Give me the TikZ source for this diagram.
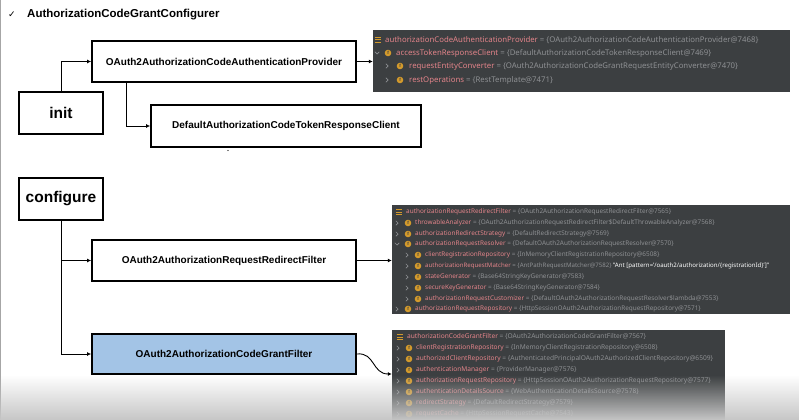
\documentclass[tikz,border=0pt]{standalone}
\usepackage{fontspec}
\setmainfont{Noto Sans}
\newfontfamily\dejavu{DejaVu Sans}
\newfontfamily\bx{Liberation Sans Bold}
\usetikzlibrary{arrows.meta,fadings}
\definecolor{pan}{HTML}{3C3F41}
\definecolor{nm}{HTML}{E3848A}
\definecolor{vl}{HTML}{8E9093}
\definecolor{ic}{HTML}{D39A2C}
\definecolor{blu}{HTML}{A3C4E6}
\newcommand\chv[2]{\draw[vl,line width=0.7pt] (#1-1.2,#2-2.2)--(#1+1,#2)--(#1-1.2,#2+2.2);}
\newcommand\chd[2]{\draw[vl,line width=0.7pt] (#1-2.2,#2-1.2)--(#1,#2+1)--(#1+2.2,#2-1.2);}
\newcommand\icf[2]{\fill[ic] (#1,#2) circle (3.3pt); \node[font=\fontsize{4.5}{5}\selectfont\bx,text=pan,inner sep=0] at (#1,#2) {f};}
\newcommand\icl[2]{\foreach \d in {-2.2,0,2.2}{\draw[ic,line width=1pt] (#1-3,#2+\d)--(#1+3,#2+\d);}}
\newcommand\txt[4]{\node[anchor=west,inner sep=0,font=#4] at (#1,#2) {#3};}
\begin{document}
\begin{tikzpicture}[x=1pt,y=-1pt,
  box/.style={draw=black,line width=1.8pt,fill=white,font=\bx\fontsize{10}{11}\selectfont,inner sep=0},
  big/.style={draw=black,line width=1.8pt,fill=white,font=\bx\fontsize{15.5}{17}\selectfont,inner sep=0},
  con/.style={line width=0.9pt,-{Latex[length=4pt,width=4pt]}}]
\useasboundingbox (0,0) rectangle (800,420);
\fill[white] (0,0) rectangle (800,420);
\draw[gray!70,line width=1pt] (0.5,0)--(0.5,420);
% title
\node[anchor=west,inner sep=0,font=\dejavu\fontsize{9}{10}\selectfont] (chk) at (8,15) {✓};
\node[anchor=west,inner sep=0,font=\bx\fontsize{11.5}{13}\selectfont] (title) at (27,15) {AuthorizationCodeGrantConfigurer};
% boxes
\node[box,minimum width=264pt,minimum height=41pt] (prov) at (224,61.5) {OAuth2AuthorizationCodeAuthenticationProvider};
\node[big,minimum width=84pt,minimum height=42pt] (init) at (61,113) {init};
\node[box,minimum width=270pt,minimum height=42pt] (client) at (286,126) {DefaultAuthorizationCodeTokenResponseClient};
\node[big,minimum width=84pt,minimum height=42pt] (conf) at (61,199) {configure};
\node[box,minimum width=264pt,minimum height=41pt] (redir) at (224,260.5) {OAuth2AuthorizationRequestRedirectFilter};
\node[box,fill=blu,minimum width=264pt,minimum height=40pt] (grant) at (224,354) {OAuth2AuthorizationCodeGrantFilter};
\fill[black] (228,150.5) circle (0.6pt);
% panels
\node[fill=pan,minimum width=417pt,minimum height=62pt,inner sep=0] (p1) at (581.5,61) {};
\node[fill=pan,minimum width=398pt,minimum height=109pt,inner sep=0] (p2) at (591,259.5) {};
\node[fill=pan,minimum width=333pt,minimum height=92pt,inner sep=0] (p3) at (558.5,376) {};
% connectors
\draw[con] (init.north) |- (prov.west);
\draw[con] (prov.south -| 126,0) |- (client.west);
\draw[con] (prov.east) -- (p1.west |- prov.east);
\draw[con] (conf.south) |- (redir.west);
\draw[con] (conf.south) |- (grant.west);
\draw[con] (redir.east) -- (p2.west |- redir.east);
\draw[con] (grant.east) .. controls (375,352) and (372,374) .. (p3.west |- 0,374);
% panel 1
\def\fa{\fontsize{7.8}{8}\selectfont}
\icl{378}{40}\txt{385}{40}{\color{nm}authorizationCodeAuthenticationProvider \color{vl}= \{OAuth2AuthorizationCodeAuthenticationProvider@7468\}}{\fa}
\chd{377}{53}\icf{388}{53}\txt{396}{53}{\color{nm}accessTokenResponseClient \color{vl}= \{DefaultAuthorizationCodeTokenResponseClient@7469\}}{\fa}
\chv{387}{66}\icf{400}{66}\txt{409}{66}{\color{nm}requestEntityConverter \color{vl}= \{OAuth2AuthorizationCodeGrantRequestEntityConverter@7470\}}{\fa}
\chv{387}{80}\icf{400}{80}\txt{409}{80}{\color{nm}restOperations \color{vl}= \{RestTemplate@7471\}}{\fa}
% panel 2
\def\fb{\fontsize{6.4}{7}\selectfont}
\icl{399}{212}\txt{406}{212}{\color{nm}authorizationRequestRedirectFilter \color{vl}= \{OAuth2AuthorizationRequestRedirectFilter@7565\}}{\fb}
\chv{397}{223}\icf{408}{223}\txt{415}{223}{\color{nm}throwableAnalyzer \color{vl}= \{OAuth2AuthorizationRequestRedirectFilter\$DefaultThrowableAnalyzer@7568\}}{\fb}
\chv{397}{234}\icf{408}{234}\txt{415}{234}{\color{nm}authorizationRedirectStrategy \color{vl}= \{DefaultRedirectStrategy@7569\}}{\fb}
\chd{397}{244}\icf{408}{244}\txt{415}{244}{\color{nm}authorizationRequestResolver \color{vl}= \{DefaultOAuth2AuthorizationRequestResolver@7570\}}{\fb}
\chv{407}{255}\icf{418}{255}\txt{425}{255}{\color{nm}clientRegistrationRepository \color{vl}= \{InMemoryClientRegistrationRepository@6508\}}{\fb}
\chv{407}{266}\icf{418}{266}\txt{425}{266}{\color{nm}authorizationRequestMatcher \color{vl}= \{AntPathRequestMatcher@7582\} \color{white}"Ant [pattern='/oauth2/authorization/\{registrationId\}']"}{\fontsize{6.1}{7}\selectfont}
\chv{407}{277}\icf{418}{277}\txt{425}{277}{\color{nm}stateGenerator \color{vl}= \{Base64StringKeyGenerator@7583\}}{\fb}
\chv{407}{288}\icf{418}{288}\txt{425}{288}{\color{nm}secureKeyGenerator \color{vl}= \{Base64StringKeyGenerator@7584\}}{\fb}
\chv{407}{299}\icf{418}{299}\txt{425}{299}{\color{nm}authorizationRequestCustomizer \color{vl}= \{DefaultOAuth2AuthorizationRequestResolver\$lambda@7553\}}{\fb}
\chv{397}{309}\icf{408}{309}\txt{415}{309}{\color{nm}authorizationRequestRepository \color{vl}= \{HttpSessionOAuth2AuthorizationRequestRepository@7571\}}{\fb}
% panel 3
\def\fc{\fontsize{6.6}{7}\selectfont}
\icl{400}{337}\txt{407}{337}{\color{nm}authorizationCodeGrantFilter \color{vl}= \{OAuth2AuthorizationCodeGrantFilter@7567\}}{\fc}
\chv{398}{348}\icf{409}{348}\txt{416}{348}{\color{nm}clientRegistrationRepository \color{vl}= \{InMemoryClientRegistrationRepository@6508\}}{\fc}
\chv{398}{359}\icf{409}{359}\txt{416}{359}{\color{nm}authorizedClientRepository \color{vl}= \{AuthenticatedPrincipalOAuth2AuthorizedClientRepository@6509\}}{\fc}
\chv{398}{370}\icf{409}{370}\txt{416}{370}{\color{nm}authenticationManager \color{vl}= \{ProviderManager@7576\}}{\fc}
\chv{398}{381}\icf{409}{381}\txt{416}{381}{\color{nm}authorizationRequestRepository \color{vl}= \{HttpSessionOAuth2AuthorizationRequestRepository@7577\}}{\fc}
\chv{398}{392}\icf{409}{392}\txt{416}{392}{\color{nm}authenticationDetailsSource \color{vl}= \{WebAuthenticationDetailsSource@7578\}}{\fc}
\chv{398}{403}\icf{409}{403}\txt{416}{403}{\color{nm}redirectStrategy \color{vl}= \{DefaultRedirectStrategy@7579\}}{\fc}
\chv{398}{414}\icf{409}{414}\txt{416}{414}{\color{nm}requestCache \color{vl}= \{HttpSessionRequestCache@7543\}}{\fc}
% bottom fade
\fill[gray!45,path fading=north] (0,375) rectangle (800,420);
\end{tikzpicture}
\end{document}
